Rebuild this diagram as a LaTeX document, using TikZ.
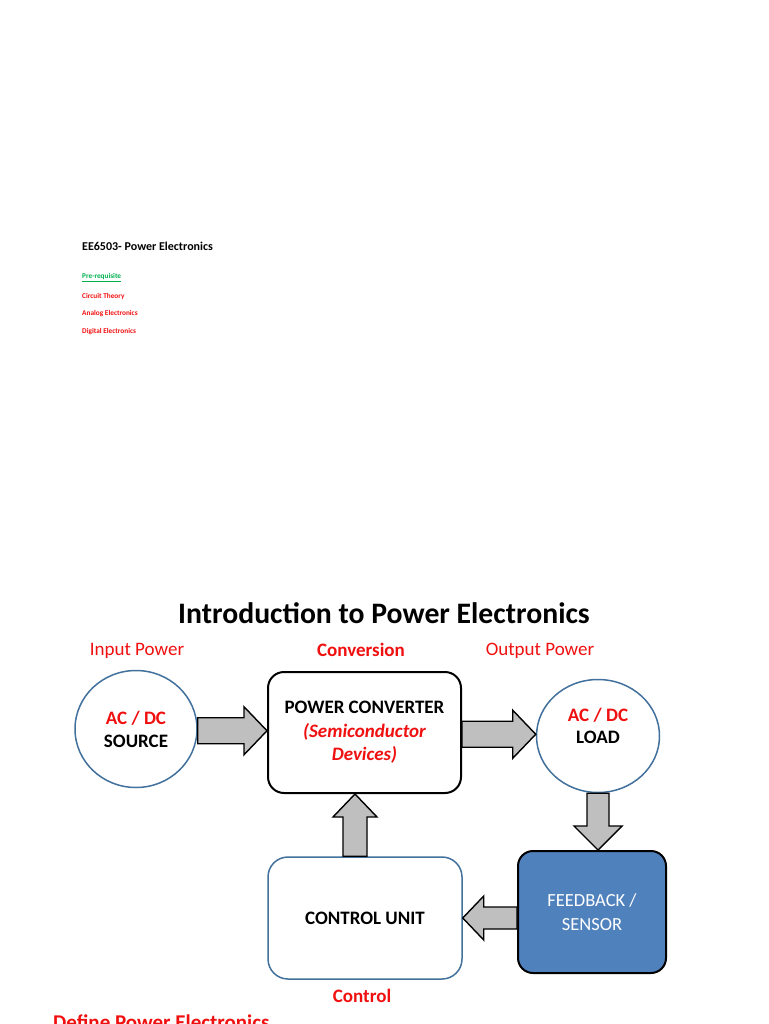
\documentclass[tikz,border=0pt]{standalone}
\usepackage{fontspec}
\setmainfont{Carlito}
\usetikzlibrary{shapes.geometric,calc}
\definecolor{pred}{HTML}{F01010}
\definecolor{pgreen}{HTML}{00B050}
\definecolor{cblue}{HTML}{41719C}
\definecolor{fblue}{HTML}{4F81BD}
\definecolor{agray}{HTML}{BFBFBF}
\tikzset{
  blockarr/.style={draw=black, fill=agray, line width=1.4pt, line join=miter},
  circ/.style={ellipse, draw=cblue, line width=1.5pt, fill=white, inner sep=0pt},
  blackbox/.style={rectangle, draw=black, line width=2pt, rounded corners=16pt, fill=white, align=center},
  smalltxt/.style={anchor=west, font=\fontsize{7.3}{8}\selectfont\bfseries, text=pred, inner sep=0pt},
  labtxt/.style={font=\fontsize{19}{22}\selectfont, text=pred, inner sep=0pt},
}
% right arrow from #1 to #2 (mid height)
\newcommand\rarr[2]{\path[blockarr] let \p1=(#1), \p2=(#2), \p3=($(#1)!.5!(#2)$) in
  (\x1,\y3+13pt) -- (\x2-23pt,\y3+13pt) -- (\x2-23pt,\y3+24pt) -- (\x2,\y3) --
  (\x2-23pt,\y3-24pt) -- (\x2-23pt,\y3-13pt) -- (\x1,\y3-13pt) -- cycle;}
% left arrow from #1 to #2 (at y of #2)
\newcommand\larr[2]{\path[blockarr] let \p1=(#1), \p2=(#2) in
  (\x1,\y2+11pt) -- (\x2+21pt,\y2+11pt) -- (\x2+21pt,\y2+22pt) -- (\x2,\y2) --
  (\x2+21pt,\y2-22pt) -- (\x2+21pt,\y2-11pt) -- (\x1,\y2-11pt) -- cycle;}
% down arrow from #1 to #2 (at x of #1)
\newcommand\darr[2]{\path[blockarr] let \p1=(#1), \p2=(#2) in
  (\x1-11pt,\y1) -- (\x1-11pt,\y2+24pt) -- (\x1-24pt,\y2+24pt) -- (\x1,\y2) --
  (\x1+24pt,\y2+24pt) -- (\x1+11pt,\y2+24pt) -- (\x1+11pt,\y1) -- cycle;}
% up arrow from #1 to #2 (at x of #1)
\newcommand\uarr[2]{\path[blockarr] let \p1=(#1), \p2=(#2) in
  (\x1-12pt,\y1) -- (\x1-12pt,\y2-23pt) -- (\x1-22pt,\y2-23pt) -- (\x1,\y2) --
  (\x1+22pt,\y2-23pt) -- (\x1+12pt,\y2-23pt) -- (\x1+12pt,\y1) -- cycle;}
\begin{document}
\begin{tikzpicture}[x=1pt,y=-1pt]
\useasboundingbox[fill=white] (0,0) rectangle (768,1024);

% header texts
\node[anchor=west, inner sep=0pt, font=\fontsize{12}{14}\selectfont\bfseries] (course) at (82,246) {EE6503- Power Electronics};
\node[smalltxt, text=pgreen] (pre) at (82,278) {\underline{Pre-requisite}};
\node[smalltxt] (ct) at (82,296.5) {Circuit Theory};
\node[smalltxt] (ae) at (82,313.5) {Analog Electronics};
\node[smalltxt] (de) at (82,331.5) {Digital Electronics};

% title and labels
\node[inner sep=0pt, font=\fontsize{29.7}{33}\selectfont\bfseries] (title) at (384,613) {Introduction to Power Electronics};
\node[labtxt] (inp) at (137,651) {Input Power};
\node[labtxt, font=\fontsize{19}{22}\selectfont\bfseries] (conv) at (361,650) {Conversion};
\node[labtxt] (outp) at (540,651) {Output Power};
\node[labtxt, font=\fontsize{19}{22}\selectfont\bfseries] (ctrl) at (362,996) {Control};
\node[labtxt, anchor=base west, font=\fontsize{21}{24}\selectfont\bfseries] (define) at (53,1029) {Define Power Electronics};

% blocks
\node[circ, minimum width=122pt, minimum height=117pt, align=center,
      font=\fontsize{19}{23}\selectfont\bfseries] (src) at (136,729)
      {\textcolor{pred}{AC / DC}\\SOURCE};
\node[blackbox, minimum width=193pt, minimum height=121pt,
      font=\fontsize{19}{23.5}\selectfont\bfseries] (pc) at (364.5,732.5)
      {POWER CONVERTER\\\textcolor{pred}{\itshape (Semiconductor}\\\textcolor{pred}{\itshape Devices)}};
\node[circ, minimum width=123pt, minimum height=113pt] (load) at (598,736) {};
\node[align=center, inner sep=0pt, font=\fontsize{19}{22}\selectfont\bfseries] (loadtxt) at (598,726)
      {\textcolor{pred}{AC / DC}\\LOAD};
\node[rectangle, draw=black, line width=2pt, rounded corners=15pt, fill=fblue,
      minimum width=148pt, minimum height=122pt, align=center, text=white,
      font=\fontsize{18.5}{24}\selectfont] (fb) at (592,912) {FEEDBACK /\\SENSOR};
\node[rectangle, draw=cblue, line width=1.5pt, rounded corners=20pt, fill=white,
      minimum width=194pt, minimum height=122pt,
      font=\fontsize{19}{22}\selectfont\bfseries] (cu) at (365,918) {CONTROL UNIT};

% block arrows
\rarr{src.east}{pc.west}
\rarr{pc.east}{load.west}
\darr{load.south}{fb.north}
\larr{fb.west}{cu.east}
\uarr{$(cu.north)+(-10,0)$}{$(pc.south)+(-10,0)$}
\end{tikzpicture}
\end{document}
